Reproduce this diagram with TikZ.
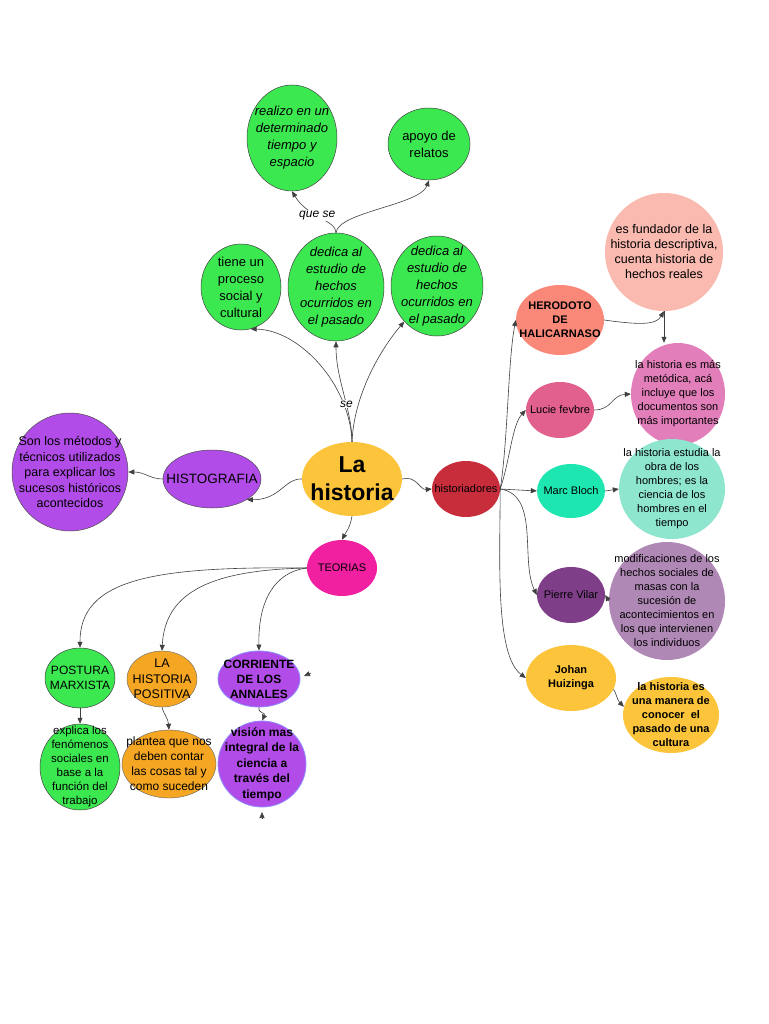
\documentclass[tikz,border=0pt]{standalone}
\usepackage{fontspec}
\setmainfont{Liberation Sans}
\usetikzlibrary{shapes.geometric,arrows.meta}
\definecolor{cgreen}{RGB}{60,232,80}
\definecolor{cyellow}{RGB}{251,196,58}
\definecolor{cpurple}{RGB}{178,76,232}
\definecolor{cmagenta}{RGB}{240,32,160}
\definecolor{cdred}{RGB}{200,45,60}
\definecolor{csalmon}{RGB}{250,136,120}
\definecolor{cpeach}{RGB}{250,186,176}
\definecolor{cpink}{RGB}{226,96,142}
\definecolor{clpink}{RGB}{226,126,186}
\definecolor{caqua}{RGB}{30,230,176}
\definecolor{claqua}{RGB}{142,230,206}
\definecolor{cvio}{RGB}{126,62,136}
\definecolor{clvio}{RGB}{176,136,182}
\definecolor{corange}{RGB}{245,166,35}
% shape style, name, position, width, height, text style, text
\newcommand{\mkbub}[7]{%
  \node[#1, ellipse, inner sep=0pt, minimum width=#4, minimum height=#5] (#2) at #3 {};
  \node[#6, align=center, inner sep=0pt, text=black] at (#2.center) {#7};}
\begin{document}
\begin{tikzpicture}[x=1pt,y=-1pt,
  gr/.style={fill=cgreen, draw=black!75, line width=0.5pt},
  pu/.style={fill=cpurple, draw=black!70, line width=0.5pt},
  pb/.style={fill=cpurple, draw=blue!45!white, line width=0.8pt},
  orb/.style={fill=corange, draw=black!60, line width=0.4pt},
  tn/.style={font=\fontsize{12}{15}\selectfont},
  ti/.style={font=\itshape\fontsize{13}{17}\selectfont},
  tm/.style={font=\fontsize{13}{17}\selectfont},
  sm/.style={font=\fontsize{11}{14}\selectfont},
  smb/.style={font=\bfseries\fontsize{11}{14}\selectfont},
  conn/.style={draw=black!75, line width=0.6pt, -{Triangle[length=6pt,width=5pt]}},
  lab/.style={fill=white, inner sep=1pt, font=\itshape\fontsize{12}{14}\selectfont}
]
\useasboundingbox (0,0) rectangle (768,1024);
\fill[white] (0,0) rectangle (768,1024);

% top cluster
\mkbub{gr}{realizo}{(292,138)}{90}{106}{ti}{realizo en un\\determinado\\tiempo y\\espacio}
\mkbub{gr}{apoyo}{(429,144)}{82}{72}{tm}{apoyo de\\relatos}
\mkbub{gr}{tiene}{(241,287)}{80}{86}{tm}{tiene un\\proceso\\social y\\cultural}
\mkbub{gr}{dedA}{(336,287)}{96}{108}{ti}{dedica al\\estudio de\\hechos\\ocurridos en\\el pasado}
\mkbub{gr}{dedB}{(437,286)}{92}{100}{ti}{dedica al\\estudio de\\hechos\\ocurridos en\\el pasado}

% center
\mkbub{fill=cyellow}{hist}{(352,479)}{100}{74}{font=\bfseries\fontsize{23}{28}\selectfont}{La\\historia}
\mkbub{pu}{histo}{(212,479)}{98}{58}{font=\fontsize{13.5}{16}\selectfont}{HISTOGRAFIA}
\mkbub{pu}{son}{(70,472)}{116}{118}{font=\fontsize{12.5}{15.5}\selectfont}{Son los métodos y\\técnicos utilizados\\para explicar los\\sucesos históricos\\acontecidos}
\mkbub{fill=cmagenta}{teo}{(342,568)}{70}{56}{sm}{TEORIAS}

% teorias branch
\mkbub{gr}{post}{(80,678)}{70}{60}{tn}{POSTURA\\MARXISTA}
\mkbub{gr}{expl}{(80,767)}{80}{86}{font=\fontsize{11.5}{14}\selectfont}{explica los\\fenómenos\\sociales en\\base a la\\función del\\trabajo}
\mkbub{orb}{posi}{(162,679)}{70}{56}{font=\fontsize{12.5}{15.5}\selectfont}{LA\\HISTORIA\\POSITIVA}
\mkbub{orb}{plan}{(169,764)}{94}{68}{tn}{plantea que nos\\deben contar\\las cosas tal y\\como suceden}
\mkbub{pb}{corr}{(259,679)}{82}{56}{font=\bfseries\fontsize{12}{15}\selectfont}{CORRIENTE\\DE LOS\\ANNALES}
\mkbub{pb}{vis}{(262,764)}{88}{86}{font=\bfseries\fontsize{12}{15.5}\selectfont}{visión mas\\integral de la\\ciencia a\\través del\\tiempo}

% historiadores branch
\mkbub{fill=cdred}{hdor}{(466,489)}{68}{56}{sm}{historiadores}
\mkbub{fill=csalmon}{hero}{(560,320)}{88}{70}{smb}{HERODOTO\\DE\\HALICARNASO}
\mkbub{fill=cpeach}{fund}{(664,252)}{118}{118}{font=\fontsize{12.5}{15}\selectfont}{es fundador de la\\historia descriptiva,\\cuenta historia de\\hechos reales}
\mkbub{fill=cpink}{luc}{(560,410)}{68}{56}{sm}{Lucie fevbre}
\mkbub{fill=clpink}{meto}{(678,394)}{94}{102}{sm}{la historia es más\\metódica, acá\\incluye que los\\documentos son\\más importantes}
\mkbub{fill=caqua}{marc}{(571,491)}{68}{54}{sm}{Marc Bloch}
\mkbub{fill=claqua}{estu}{(672,489)}{106}{100}{sm}{la historia estudia la\\obra de los\\hombres; es la\\ciencia de los\\hombres en el\\tiempo}
\mkbub{fill=cvio}{pier}{(571,595)}{68}{56}{sm}{Pierre Vilar}
\mkbub{fill=clvio}{modi}{(667,601)}{116}{118}{sm}{modificaciones de los\\hechos sociales de\\masas con la\\sucesión de\\acontecimientos en\\los que intervienen\\los individuos}
\mkbub{fill=cyellow}{joh}{(571,678)}{90}{66}{smb}{Johan\\Huizinga}
\mkbub{fill=cyellow}{mane}{(671,715)}{96}{76}{smb}{la historia es\\una manera de\\conocer\ \ el\\pasado de una\\cultura}

% connectors: top
\draw[conn] (hist.north) .. controls (350,385) and (300,330) .. (tiene.283);
\draw[conn] (hist.north) .. controls (352,410) and (336,380) .. node[lab, pos=0.4] {se} (dedA.south);
\draw[conn] (hist.north) .. controls (354,395) and (380,350) .. (dedB.south west);
\draw[conn] (dedA.north) .. controls (336,220) and (308,218) .. node[lab, pos=0.55] {que se} (realizo.south);
\draw[conn] (dedA.north) .. controls (338,212) and (420,205) .. (apoyo.south);

% left
\draw[conn] (hist.west) .. controls (285,478) and (280,500) .. (histo.south east);
\draw[conn] (histo.west) .. controls (150,479) and (145,472) .. (son.east);
\draw[conn] (hist.south) .. controls (350,528) and (346,532) .. (teo.north);

% teorias
\draw[conn] (teo.west) .. controls (150,566) and (80,580) .. (post.north);
\draw[conn] (teo.west) .. controls (215,570) and (165,590) .. (posi.north);
\draw[conn] (teo.west) .. controls (275,572) and (258,600) .. (corr.north);
\draw[conn] (post.south) -- (expl.north);
\draw[conn] (posi.south) .. controls (164,715) and (168,718) .. (plan.north);
\draw[conn] (corr.south) .. controls (258,714) and (266,712) .. (vis.north);
\coordinate (s1a) at (311,673);
\coordinate (s1b) at (304,676);
\draw[conn] (s1a) -- (s1b);
\coordinate (s2a) at (262,818);
\coordinate (s2b) at (262,812);
\draw[conn] (s2a) -- (s2b);

% historiadores
\draw[conn] (hist.east) .. controls (416,475) and (420,490) .. (hdor.west);
\draw[conn] (hdor.east) .. controls (508,440) and (508,360) .. (hero.west);
\draw[conn] (hdor.east) .. controls (510,460) and (512,425) .. (luc.west);
\draw[conn] (hdor.east) -- (marc.west);
\draw[conn] (hdor.east) .. controls (540,495) and (520,560) .. (pier.west);
\draw[conn] (hdor.east) .. controls (500,560) and (495,655) .. (joh.west);
\draw[conn] (hero.east) .. controls (640,325) and (656,325) .. (fund.south);
\draw[conn] (fund.south) -- (meto.north -| fund.south);
\draw[conn] (luc.east) .. controls (612,410) and (612,395) .. (meto.west);
\draw[conn] (marc.east) -- (estu.west);
\draw[conn] (modi.west) -- (pier.east);
\draw[conn] (joh.-15) .. controls (616,692) and (617,700) .. (mane.170);
\end{tikzpicture}
\end{document}
